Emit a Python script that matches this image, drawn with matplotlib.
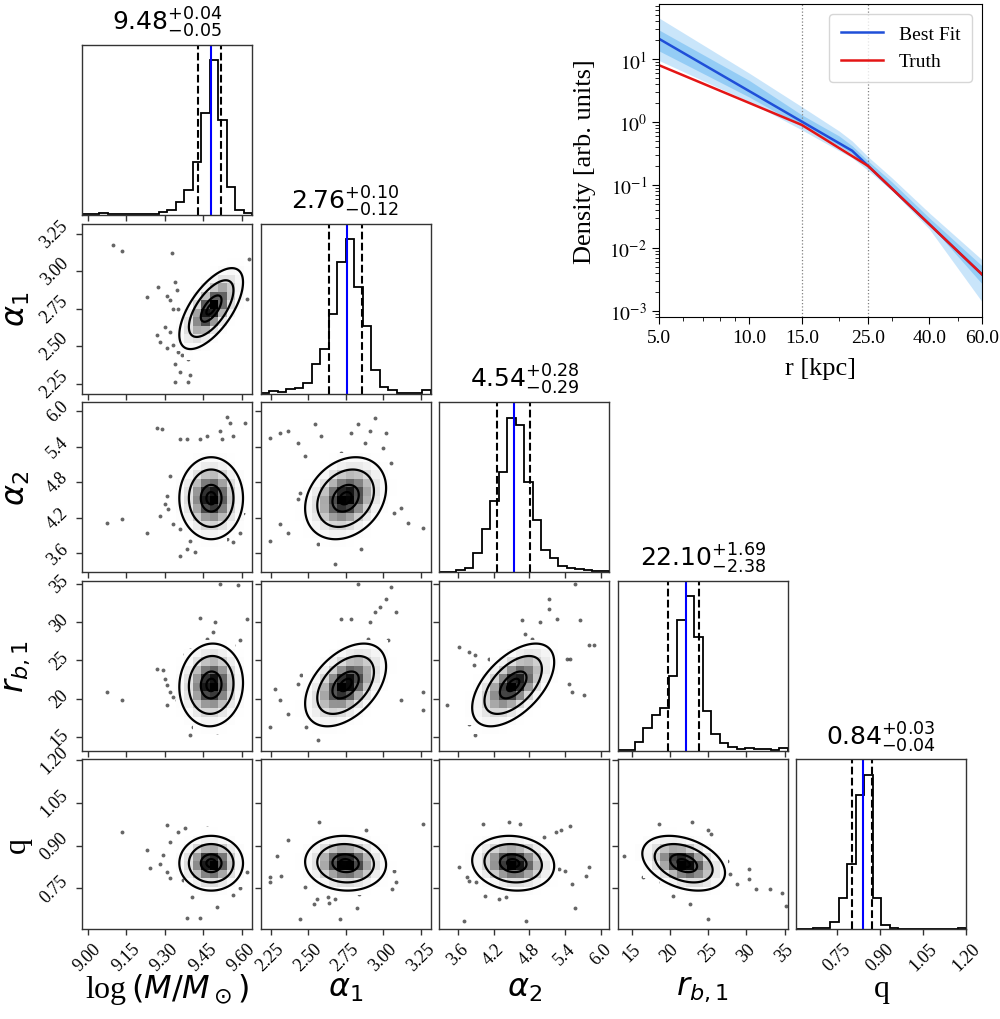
import numpy as np
import matplotlib
matplotlib.use("Agg")
import matplotlib.pyplot as plt
from matplotlib.colors import LinearSegmentedColormap
from matplotlib.ticker import FixedLocator, FixedFormatter, NullFormatter, LogLocator

plt.rcParams['font.family'] = ['Liberation Serif', 'DejaVu Sans']
plt.rcParams['mathtext.fontset'] = 'dejavusans'

# --- corner data ---
labels = [r"log$\,(M/M_\odot)$", r"$\alpha_1$", r"$\alpha_2$", r"$r_{b,1}$", "q"]
ranges = [(8.978, 9.640), (2.183, 3.317), (3.285, 6.146), (13.2, 35.4), (0.606, 1.202)]
ticks = [[9.00, 9.15, 9.30, 9.45, 9.60],
         [2.25, 2.50, 2.75, 3.00, 3.25],
         [3.6, 4.2, 4.8, 5.4, 6.0],
         [15, 20, 25, 30, 35],
         [0.75, 0.90, 1.05, 1.20]]
tick_fmt = ["%.2f", "%.2f", "%.1f", "%d", "%.2f"]

# 20-bin marginal histograms
hist_logm = [2, 2, 6, 2, 2, 2, 2, 3, 4, 9, 15, 40, 75, 160, 308, 465, 287, 83, 15, 7]
hist_a1 = [2, 9, 5, 13, 18, 33, 90, 135, 238, 397, 465, 320, 203, 70, 20, 12, 3, 2, 2, 11]
hist_a2 = [1, 2, 6, 12, 58, 130, 215, 300, 465, 442, 272, 158, 67, 42, 18, 12, 9, 7, 5, 3]
hist_rb = [2, 2, 27, 69, 109, 129, 224, 395, 465, 342, 119, 52, 24, 10, 4, 8, 4, 4, 3, 7]
hist_q = [1, 2, 3, 5, 23, 95, 197, 403, 462, 95, 13, 4, 2, 1, 1, 1, 1, 1, 1, 4]
hists = [hist_logm, hist_a1, hist_a2, hist_rb, hist_q]

medians = [9.48, 2.76, 4.54, 22.10, 0.84]
err_up = [0.04, 0.10, 0.28, 1.69, 0.03]
err_lo = [0.05, 0.12, 0.29, 2.38, 0.04]

# shape of the 2D contours (centre, width, correlation)
centre_2d = [9.481, 2.75, 4.53, 21.8, 0.838]
sigma_2d = [0.062, 0.135, 0.345, 2.7, 0.048]
rho_2d = [[0, 0, 0, 0, 0],
          [0.65, 0, 0, 0, 0],
          [0.0, 0.25, 0, 0, 0],
          [0.05, 0.45, 0.55, 0, 0],
          [0.0, -0.05, -0.10, -0.35, 0]]
contour_sig = [0.3, 0.65, 1.4, 2.0]

# outlying samples seen outside the contours (x value, y value)
pts_a1_logm = [(9.097, 3.173), (9.132, 3.134), (9.327, 3.123), (9.230, 2.828), (9.275, 2.894),
               (9.308, 2.835), (9.340, 2.928), (9.347, 2.873), (9.321, 2.806), (9.334, 2.750),
               (9.353, 2.750), (9.301, 2.628), (9.321, 2.594), (9.269, 2.572), (9.282, 2.528),
               (9.308, 2.484), (9.334, 2.505), (9.353, 2.461), (9.366, 2.438), (9.392, 2.416),
               (9.340, 2.383), (9.360, 2.327), (9.340, 2.261), (9.392, 2.261), (9.398, 2.305),
               (9.593, 3.062), (9.567, 3.072), (9.541, 3.017), (9.630, 3.084), (9.502, 2.949),
               (9.619, 2.817)]
pts_a2_logm = [(9.074, 4.120), (9.269, 5.720), (9.288, 5.691), (9.360, 5.523), (9.386, 5.523),
               (9.437, 5.523), (9.463, 5.580), (9.541, 5.889), (9.554, 5.803), (9.515, 5.663),
               (9.522, 5.523), (9.567, 5.580), (9.613, 5.803), (9.321, 4.907), (9.308, 4.570),
               (9.301, 4.430), (9.314, 4.346), (9.334, 4.092), (9.360, 4.009), (9.282, 4.232),
               (9.398, 3.811), (9.386, 3.671), (9.360, 3.560), (9.418, 3.617), (9.437, 3.786),
               (9.541, 3.841), (9.567, 3.786), (9.593, 3.952), (9.606, 4.289), (9.230, 3.952),
               (9.132, 4.178)]
pts_rb_logm = [(9.074, 20.86), (9.132, 19.77), (9.269, 23.90), (9.294, 23.69), (9.301, 22.60),
               (9.308, 21.73), (9.321, 20.86), (9.334, 20.21), (9.308, 19.13), (9.347, 19.77),
               (9.360, 25.21), (9.379, 25.87), (9.398, 26.30), (9.437, 26.52), (9.463, 27.83),
               (9.490, 28.70), (9.515, 35.0), (9.587, 34.8), (9.437, 30.52), (9.496, 30.00),
               (9.535, 27.39), (9.567, 26.96), (9.593, 27.61), (9.619, 30.43), (9.386, 16.95),
               (9.412, 16.29), (9.437, 16.06), (9.398, 15.20), (9.502, 15.64)]
pts_q_logm = [(9.132, 0.949), (9.230, 0.884), (9.308, 0.972), (9.321, 0.914), (9.353, 0.949),
              (9.379, 0.960), (9.294, 0.866), (9.282, 0.837), (9.308, 0.808), (9.321, 0.785),
              (9.360, 0.820), (9.373, 0.779), (9.405, 0.720), (9.425, 0.750), (9.386, 0.645),
              (9.437, 0.645), (9.502, 0.685), (9.567, 0.726), (9.593, 0.750), (9.619, 0.808),
              (9.463, 0.960), (9.243, 0.820)]
pts_a2_a1 = [(2.243, 5.551), (2.310, 5.636), (2.365, 5.664), (2.432, 5.467), (2.476, 5.243),
             (2.543, 5.776), (2.588, 5.579), (2.677, 5.159), (2.721, 5.299), (2.788, 5.635),
             (2.833, 5.776), (2.877, 5.467), (2.910, 5.664), (2.944, 5.888), (2.999, 5.383),
             (3.021, 5.636), (3.055, 5.131), (3.044, 4.710), (3.122, 4.373), (3.073, 4.289),
             (3.266, 4.037), (2.243, 3.812), (2.310, 4.093), (2.365, 3.953), (2.432, 4.513),
             (2.443, 4.626), (2.476, 4.233), (2.488, 4.065), (2.543, 3.953), (2.565, 3.756),
             (2.677, 3.420), (2.855, 3.672), (3.166, 4.121)]
pts_rb_a1 = [(2.243, 16.29), (2.310, 19.77), (2.365, 18.03), (2.432, 21.95), (2.454, 23.04),
             (2.488, 16.29), (2.543, 15.86), (2.565, 14.55), (2.721, 30.44), (2.788, 30.44),
             (2.833, 35.01), (2.910, 30.00), (2.944, 31.31), (2.977, 31.96), (3.021, 33.05),
             (3.055, 34.57), (3.088, 31.31), (2.899, 27.83), (3.033, 27.61), (3.055, 25.21),
             (3.122, 19.77), (3.266, 18.47), (3.266, 20.86), (2.276, 21.30)]
pts_rb_a2 = [(3.414, 19.12), (3.610, 26.74), (3.779, 26.08), (3.891, 25.65), (3.863, 24.34),
             (4.115, 25.21), (3.779, 16.73), (3.891, 15.20), (4.676, 30.22), (4.732, 28.48),
             (4.845, 27.83), (4.985, 30.00), (5.125, 33.05), (5.125, 31.74), (5.265, 30.44),
             (5.574, 35.01), (5.658, 30.22), (5.798, 26.96), (5.882, 26.96), (5.490, 25.21),
             (5.462, 21.95), (5.518, 20.86), (5.714, 20.43), (5.209, 24.78), (5.434, 25.21)]
pts_q_a1 = [(2.248, 0.788), (2.248, 0.771), (2.318, 0.794), (2.364, 0.918), (2.433, 0.847),
            (2.457, 0.853), (2.480, 0.753), (2.538, 0.694), (2.561, 0.712), (2.573, 0.982),
            (2.631, 0.718), (2.642, 0.700), (2.677, 0.712), (2.828, 0.682), (2.839, 0.729),
            (2.886, 0.953), (3.060, 0.747), (3.071, 0.812), (3.083, 0.771), (3.268, 0.976),
            (2.445, 0.641), (2.712, 0.641), (2.294, 0.865)]
pts_q_a2 = [(3.700, 0.635), (3.759, 0.788), (3.788, 0.776), (3.905, 0.771), (4.022, 0.976),
            (4.051, 0.724), (4.286, 0.712), (4.403, 0.718), (4.461, 0.982), (4.637, 0.976),
            (4.754, 0.635), (5.046, 0.929), (5.251, 0.947), (5.339, 0.953), (5.309, 0.818),
            (5.397, 0.812), (5.485, 0.970), (5.514, 0.765), (5.573, 0.682), (5.807, 0.824),
            (5.748, 0.794), (3.876, 0.871), (3.613, 0.824)]
pts_q_rb = [(14.06, 0.865), (16.55, 0.788), (17.69, 0.800), (18.59, 0.976), (18.82, 0.771),
            (22.90, 0.982), (24.94, 0.953), (25.39, 0.941), (25.84, 0.871), (27.43, 0.847),
            (27.88, 0.800), (28.79, 0.765), (30.37, 0.818), (30.37, 0.782), (31.28, 0.747),
            (33.09, 0.747), (34.68, 0.735), (35.13, 0.688), (24.94, 0.641), (22.67, 0.694),
            (20.40, 0.724)]
scatter_table = {(1, 0): pts_a1_logm, (2, 0): pts_a2_logm, (3, 0): pts_rb_logm,
                 (4, 0): pts_q_logm, (2, 1): pts_a2_a1, (3, 1): pts_rb_a1,
                 (3, 2): pts_rb_a2, (4, 1): pts_q_a1, (4, 2): pts_q_a2, (4, 3): pts_q_rb}

# --- density profile panel ---
r_truth = [5, 15, 25, 60]
rho_truth = [8.0, 0.9, 0.2, 0.0038]
r_fit = [5, 22.1, 60]
rho_fit = [21.0, 0.35, 0.0038]
band_r = [5, 10, 15, 20, 22.1, 25, 30, 40, 60]
band_out_hi = [45, 6.0, 1.75, 0.72, 0.5, 0.28, 0.13, 0.036, 0.0065]
band_out_lo = [9.5, 2.1, 0.75, 0.35, 0.27, 0.17, 0.082, 0.02, 0.0014]
band_in_hi = [29, 4.6, 1.3, 0.6, 0.42, 0.24, 0.112, 0.030, 0.0052]
band_in_lo = [13.5, 2.5, 0.85, 0.42, 0.31, 0.185, 0.092, 0.024, 0.0027]
r_breaks = [15, 25]
r_ticks = [5, 10, 15, 25, 40, 60]

W, H = 1000, 1020
fig = plt.figure(figsize=(W / 100, H / 100), dpi=100)

def px_axes(x, y, w, h):
    return fig.add_axes([x / W, 1 - (y + h) / H, w / W, h / H])

n = 5
left0, top0, pitch, size = 82, 46, 178.6, 170
gray_cmap = LinearSegmentedColormap.from_list("g", ["white", "black"])

def style(ax):
    for s in ax.spines.values():
        s.set_color("#333333")
        s.set_linewidth(1.0)
    ax.tick_params(direction="out", length=4, width=1, color="#333333", labelsize=13)

for i in range(n):
    for j in range(i + 1):
        ax = px_axes(left0 + j * pitch, top0 + i * pitch, size, size)
        style(ax)
        xlo, xhi = ranges[j]
        ax.set_xlim(xlo, xhi)
        ax.xaxis.set_major_locator(FixedLocator(ticks[j]))
        if i == j:
            edges = np.linspace(xlo, xhi, 21)
            counts = np.array(hists[i], float)
            ax.stairs(counts, edges, color="k", linewidth=1.3)
            ax.set_ylim(0, 1.1 * counts.max())
            ax.set_yticks([])
            m = medians[i]
            ax.axvline(m, color="blue", lw=1.5)
            ax.axvline(m - err_lo[i], color="k", ls="--", lw=1.5)
            ax.axvline(m + err_up[i], color="k", ls="--", lw=1.5)
            ax.set_title(r"$%.2f^{+%.2f}_{-%.2f}$" % (m, err_up[i], err_lo[i]),
                         fontsize=18, pad=11, family="DejaVu Sans")
        else:
            ylo, yhi = ranges[i]
            ax.set_ylim(ylo, yhi)
            ax.yaxis.set_major_locator(FixedLocator(ticks[i]))
            r = rho_2d[i][j]
            mx, sx = centre_2d[j], sigma_2d[j]
            my, sy = centre_2d[i], sigma_2d[i]

            def mahal(X, Y):
                u = (X - mx) / sx
                v = (Y - my) / sy
                return (u * u - 2 * r * u * v + v * v) / (1 - r * r)

            pts = np.array(scatter_table[(i, j)])
            ax.plot(pts[:, 0], pts[:, 1], "o", color="k", ms=2.8, mew=0, alpha=0.6, zorder=1)
            xe = np.linspace(xlo, xhi, 21)
            ye = np.linspace(ylo, yhi, 21)
            XC, YC = np.meshgrid(0.5 * (xe[1:] + xe[:-1]), 0.5 * (ye[1:] + ye[:-1]))
            dens = np.exp(-0.5 * mahal(XC, YC))
            shade = (dens / dens.max()) ** 2.0
            shade = np.ma.masked_less(shade, 0.004)
            ax.pcolormesh(xe, ye, shade, cmap=gray_cmap, vmin=0, vmax=1.0, zorder=2)
            xf = np.linspace(xlo, xhi, 300)
            yf = np.linspace(ylo, yhi, 300)
            XF, YF = np.meshgrid(xf, yf)
            ax.contour(XF, YF, mahal(XF, YF), levels=np.array(contour_sig) ** 2,
                       colors="k", linewidths=1.6, zorder=3)
        # tick labels
        if i == n - 1:
            ax.set_xticklabels([tick_fmt[j] % t for t in ticks[j]], rotation=45)
        else:
            ax.set_xticklabels([])
        if j == 0 and i > 0:
            ax.set_yticklabels([tick_fmt[i] % t for t in ticks[i]], rotation=45, va="center")
        elif i != j:
            ax.set_yticklabels([])

# axis labels
for k in range(n):
    cx = left0 + k * pitch + size / 2
    fig.text(cx / W, 1 - 990 / H, labels[k], ha="center", va="center", fontsize=23)
    if k > 0:
        cy = top0 + k * pitch + size / 2
        fig.text(17 / W, 1 - cy / H, labels[k], ha="center", va="center", fontsize=23,
                 rotation=90)

# --- density profile inset ---
ax = px_axes(659, 5, 323, 313)
ax.set_xscale("log")
ax.set_yscale("log")
ax.fill_between(band_r, band_out_lo, band_out_hi, color="#a6d4f8", alpha=0.6, lw=0)
ax.fill_between(band_r, band_in_lo, band_in_hi, color="#6ab8f2", alpha=0.55, lw=0)
for rb in r_breaks:
    ax.axvline(rb, color="gray", ls=":", lw=0.9)
ax.plot(r_fit, rho_fit, color="#1f4fd8", lw=1.8, label="Best Fit")
ax.plot(r_truth, rho_truth, color="#e41515", lw=1.8, label="Truth")
ax.set_xlim(5, 60)
ax.set_ylim(8e-4, 75)
ax.xaxis.set_major_locator(FixedLocator(r_ticks))
ax.xaxis.set_major_formatter(FixedFormatter(["%.1f" % t for t in r_ticks]))
ax.xaxis.set_minor_locator(LogLocator(subs=np.arange(2, 10)))
ax.xaxis.set_minor_formatter(NullFormatter())
ax.yaxis.set_major_locator(FixedLocator([1e-3, 1e-2, 1e-1, 1e0, 1e1]))
ax.yaxis.set_major_formatter(FixedFormatter([r"$10^{-3}$", r"$10^{-2}$", r"$10^{-1}$",
                                             r"$10^{0}$", r"$10^{1}$"]))
ax.tick_params(which="both", direction="out", labelsize=14)
ax.tick_params(which="major", length=5)
ax.tick_params(which="minor", length=3)
for t in ax.yaxis.get_major_ticks():
    t.label1.set_math_fontfamily("stix")
ax.set_xlabel("r [kpc]", fontsize=19, labelpad=8)
ax.set_ylabel("Density [arb. units]", fontsize=19, labelpad=10)
ax.legend(loc="upper right", fontsize=14, handlelength=2.2, framealpha=0.8,
          edgecolor="#cccccc", borderpad=0.6, labelspacing=0.5)

fig.savefig("out.png", dpi=100)
